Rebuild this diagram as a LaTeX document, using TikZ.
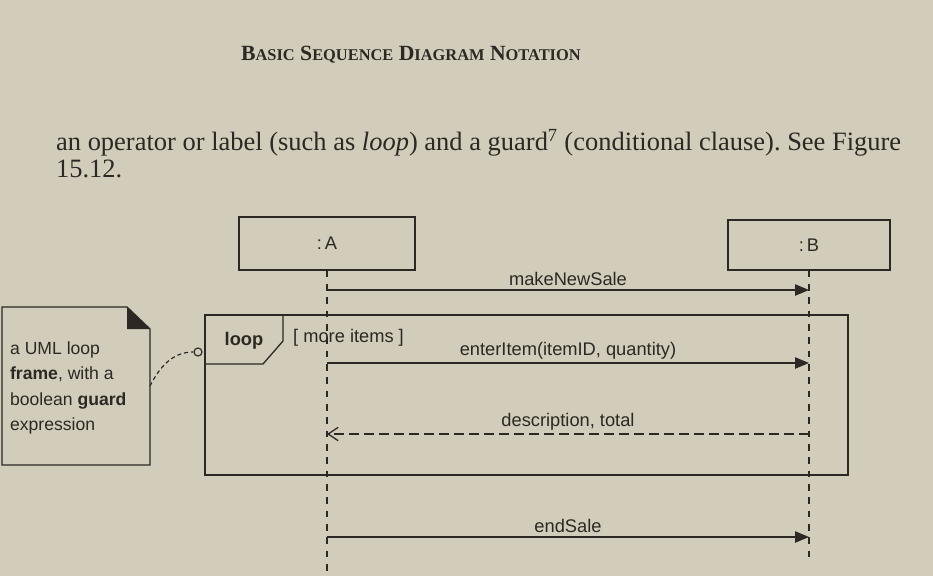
\documentclass[tikz,border=0pt]{standalone}
\usepackage{fontspec}
\setmainfont{Liberation Serif}
\newfontfamily\diagfont{Liberation Sans}
\usetikzlibrary{arrows.meta}
\definecolor{paper}{RGB}{210,204,186}
\definecolor{ink}{RGB}{45,40,35}
\newcommand{\smc}[1]{{\fontsize{14}{16}\selectfont #1}}
\frenchspacing
\tikzset{
    obj/.style={draw=ink, line width=1.1pt, text=ink, font=\diagfont\fontsize{15.6}{18}\selectfont},
    life/.style={draw=ink, line width=1.1pt, dash pattern=on 0.2cm off 0.2cm},
    msg/.style={draw=ink, line width=1.1pt, -{Triangle[length=0.42cm,width=0.34cm]}},
    ret/.style={draw=ink, line width=1.1pt, dash pattern=on 0.3cm off 0.15cm, -{Straight Barb[length=0.3cm,width=0.4cm]}},
    lbl/.style={above, inner sep=3pt, text=ink, font=\diagfont\fontsize{15.6}{18}\selectfont},
    frm/.style={draw=ink, line width=1.1pt},
    link/.style={draw=ink, line width=1pt, dash pattern=on 0.12cm off 0.09cm}
}
\begin{document}
\begin{tikzpicture}[x=0.03cm, y=-0.03cm]
    \fill[paper] (0,0) rectangle (933,576);
    \useasboundingbox (0,0) rectangle (933,576);

    \node[anchor=base west, text=ink, font=\fontsize{18.5}{21}\selectfont] (title) at (237,60)
        {\textbf{B\smc{ASIC} S\smc{EQUENCE} D\smc{IAGRAM} N\smc{OTATION}}};
    \node[anchor=base west, text=ink, font=\fontsize{22.6}{26}\selectfont] (line1) at (52,150)
        {an operator or label (such as \emph{loop}) and a guard\textsuperscript{7} (conditional clause). See Figure};
    \node[anchor=base west, text=ink, font=\fontsize{22.6}{26}\selectfont] (line2) at (52,177) {15.12.};

    \node[obj, minimum width=5.28cm, minimum height=1.59cm] (A) at (327,243.5) {:\,A};
    \node[obj, minimum width=4.86cm, minimum height=1.5cm] (B) at (809,245) {:\,B};
    \coordinate (Aend) at (327,576);
    \coordinate (Bend) at (809,558);
    \draw[life] (A.south)--(Aend);
    \draw[life] (B.south)--(Bend);

\foreach \n/\y in {1/290,2/363,3/434,4/537}
{
    \coordinate (a\n) at (327,\y);
    \coordinate (b\n) at (809,\y);
}
    \draw[msg] (a1)-- node[lbl]{makeNewSale} (b1);
    \draw[msg] (a2)-- node[lbl]{enterItem(itemID, quantity)} (b2);
    \draw[ret] (b3)-- node[lbl]{description, total} (a3);
    \draw[msg] (a4)-- node[lbl]{endSale} (b4);

    \draw[frm] (205,315) rectangle (848,475);
    \draw[frm] (205,364)--(263,364)--(283,341)--(283,315);
    \node[text=ink, font=\diagfont\fontsize{15.6}{18}\selectfont\bfseries] (looptag) at (244,341) {loop};
    \node[anchor=west, text=ink, font=\diagfont\fontsize{15.6}{18}\selectfont] (guard) at (289,338) {[ more items ]};

    \draw[frm] (2,307)--(127,307)--(150,329)--(150,465)--(2,465)--cycle;
    \fill[ink] (127,307)--(150,329)--(127,329)--cycle;
    \node[anchor=west, align=left, text=ink, font=\diagfont\fontsize{15}{21.5}\selectfont] (note) at (6,388)
        {a UML loop\\\textbf{frame}, with a\\boolean \textbf{guard}\\expression};
    \coordinate (noteR) at (150,386);
    \node[draw=ink, line width=1pt, circle, inner sep=0pt, minimum size=0.24cm] (pin) at (198,352) {};
    \draw[link] (noteR) .. controls (162,362) and (176,352) .. (pin);
\end{tikzpicture}
\end{document}
